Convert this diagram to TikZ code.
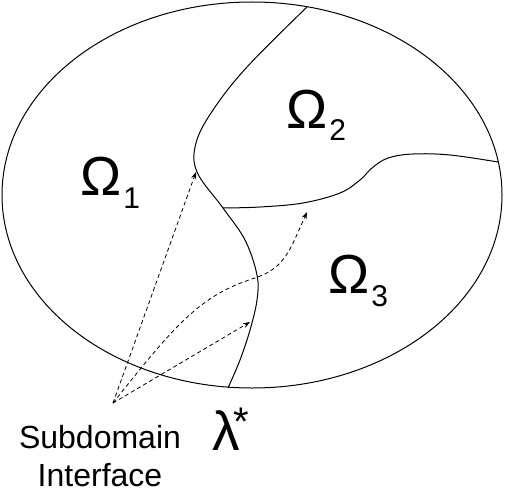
\documentclass[tikz,border=0pt]{standalone}
\usepackage{fontspec}
\setmainfont{Liberation Sans}
\usetikzlibrary{arrows.meta}
\newcommand{\omg}[1]{Ω\kern2pt\raisebox{-13pt}{\fontsize{30}{30}\selectfont #1}}

\begin{document}
\begin{tikzpicture}[x=1pt, y=-1pt,
	rand/.style={line width=1pt},
	pfeil/.style={line width=0.8pt, dash pattern=on 4pt off 3pt, -{Stealth[length=7pt, width=5pt]}},
	gross/.style={inner sep=0pt, anchor=base west, font=\fontsize{55}{60}\selectfont},
	klein/.style={inner sep=0pt, anchor=base, align=center, font=\fontsize{32}{38}\selectfont}]
	\useasboundingbox (0, 0) rectangle (505, 492);
	% Gebiet
	\draw [rand] (252, 195) ellipse [x radius=250pt, y radius=193pt];
	% Schnittstellen
	\coordinate (knick) at (223, 208);
	\draw [rand] plot [smooth, tension=0.6] coordinates {(307, 7) (247, 67) (213, 110) (196, 143) (197, 172) (knick) (245, 240) (257, 275) (257, 300) (250, 330) (240, 360) (228, 388)};
	\draw [rand] plot [smooth, tension=0.6] coordinates {(knick) (260, 207) (303, 203) (340, 193) (360, 180) (372, 168) (388, 158) (413, 154) (450, 155) (498, 162)};
	% Beschriftungen
	\node [gross] (om1) at (80, 195) {\omg{1}};
	\node [gross] (om2) at (286, 128) {\omg{2}};
	\node [gross] (om3) at (328, 293) {\omg{3}};
	\node [gross] (lam) at (212, 450) {λ\kern-6pt\raisebox{14.5pt}{\fontsize{40}{40}\selectfont *}};
	\node [klein] (text) at (100, 486) {Subdomain\\Interface};
	% Pfeile
	\coordinate (quelle) at (113, 403);
	\coordinate (ziel1) at (196, 172);
	\coordinate (ziel2) at (307, 212);
	\coordinate (ziel3) at (250, 322);
	\draw [pfeil] (quelle) -- (ziel1);
	\draw [pfeil] (quelle) .. controls (175, 325) and (200, 295) .. (255, 278) .. controls (285, 268) and (290, 250) .. (ziel2);
	\draw [pfeil] (quelle) -- (ziel3);
\end{tikzpicture}
\end{document}
